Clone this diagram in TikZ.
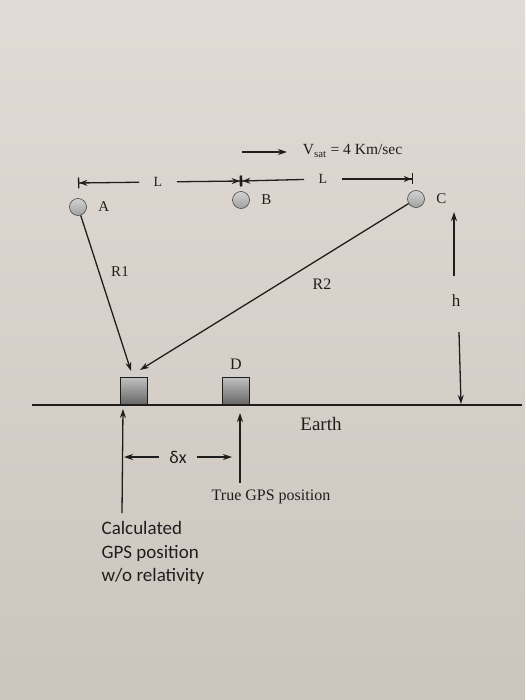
\documentclass[tikz,border=0pt]{standalone}
\usepackage{fontspec}
\setmainfont{Liberation Serif}
\newfontfamily\calfont{Carlito}
\usetikzlibrary{calc, positioning, arrows.meta}

\definecolor{paper}{RGB}{204,197,190}
\definecolor{paperlight}{RGB}{226,219,213}
\definecolor{ink}{RGB}{32,30,29}

\begin{document}
\begin{tikzpicture}[x=1pt, y=-1pt, >={Stealth[length=9pt,width=6pt]}, line width=1.3pt, color=ink]
		\tikzstyle{sat}=[circle, draw=gray!55!black, line width=0.6pt, top color=gray!35, bottom color=gray!75, minimum size=17pt, inner sep=0pt]
		\tikzstyle{recv}=[rectangle, draw=ink, line width=0.7pt, top color=gray!50, bottom color=gray!80!black, minimum size=27pt, inner sep=0pt]
		\tikzstyle{lbl}=[font=\fontsize{15}{17}\selectfont, inner sep=2pt]
		\tikzstyle{dimlbl}=[font=\fontsize{14}{16}\selectfont, inner xsep=14pt, inner ysep=2pt]
		\fill[top color=paperlight, bottom color=paper] (0,0) rectangle (525,700);
		\useasboundingbox (0,0) rectangle (525,700);
		% satellites
		\node[sat] (A) at (78,207) {};
		\node[sat] (B) at (241,200) {};
		\node[sat] (C) at (416,199) {};
		\node[lbl, right=9pt of A] (labA) {A};
		\node[lbl, right=9pt of B] (labB) {B};
		\node[lbl, right=9pt of C] (labC) {C};
		% L spacing
		\coordinate (tickA) at (78,183);
		\coordinate (tickB) at (241,181);
		\coordinate (tickC) at (413,179);
		\node[dimlbl] (L1) at (158,182) {L};
		\node[dimlbl] (L2) at (323,179) {L};
		\draw[{Bar[width=11pt]Stealth[length=8pt,width=6pt]}-] (tickA) -- (L1);
		\draw[-{Stealth[length=8pt,width=6pt]Bar[width=11pt]}] (L1) -- (tickB);
		\draw[{Bar[width=11pt]Stealth[length=8pt,width=6pt]}-] (tickB) -- (L2);
		\draw[-{Stealth[length=8pt,width=6pt]Bar[width=11pt]}] (L2) -- (tickC);
		% velocity
		\node[font=\fontsize{15.5}{17}\selectfont, anchor=west] (vsat) at (299,151) {V\textsubscript{sat} = 4 Km/sec};
		\coordinate (vstart) at (242,152);
		\draw[->, shorten >=12pt] (vstart) -- (vsat.west |- vstart);
		% earth and receivers
		\coordinate (earthL) at (32,405);
		\coordinate (earthR) at (522,405);
		\draw[line width=1.5pt] (earthL) -- (earthR);
		\node[recv, anchor=south] (calc) at (134,405) {};
		\node[recv, anchor=south] (true) at (236,405) {};
		\node[lbl, font=\fontsize{16}{18}\selectfont, above=5pt of true] (labD) {D};
		\node[font=\fontsize{19}{21}\selectfont] (earth) at (321,424) {Earth};
		% ranges
		\coordinate (r1end) at (131,371);
		\coordinate (r2end) at (140,370);
		\draw[->] (A) -- (r1end);
		\draw[->] (C) -- (r2end);
		\node[lbl] (labR1) at (120,272) {R1};
		\node[lbl, font=\fontsize{16}{18}\selectfont] (labR2) at (322,284) {R2};
		% height
		\node[font=\fontsize{17}{19}\selectfont] (h) at (456,301) {h};
		\coordinate (hup) at (454,276);
		\coordinate (htop) at (454,212);
		\coordinate (hdn) at (459,332);
		\coordinate (hbot) at (461,404);
		\draw[->] (hup) -- (htop);
		\draw[->] (hdn) -- (hbot);
		% positions below the ground
		\coordinate (cbot) at (122,513);
		\coordinate (ctop) at (123,409);
		\coordinate (tbot) at (240,483);
		\coordinate (ttop) at (240,413);
		\draw[->] (cbot) -- (ctop);
		\draw[->] (tbot) -- (ttop);
		\node[font=\calfont\fontsize{18}{20}\selectfont] (dx) at (178,457) {δx};
		\coordinate (dxL) at (124,457);
		\coordinate (dxR) at (232,457);
		\draw[->, shorten <=6pt] (dx.west) -- (dxL);
		\draw[->, shorten <=6pt] (dx.east) -- (dxR);
		\node[font=\fontsize{16}{18}\selectfont] (truelbl) at (271,497) {True GPS position};
		\node[font=\calfont\fontsize{19}{23.5}\selectfont, align=left, anchor=north west, inner sep=0pt] (calclbl) at (101,521)
			{Calculated\\GPS position\\w/o relativity};
\end{tikzpicture}
\end{document}
